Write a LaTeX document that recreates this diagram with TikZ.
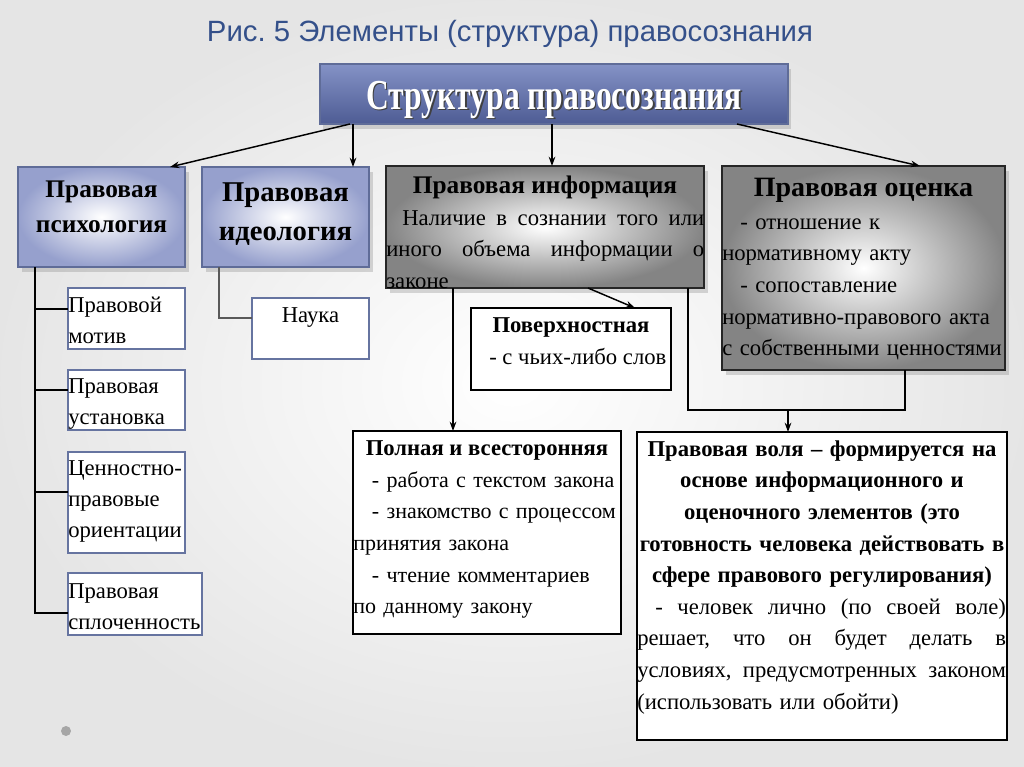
\documentclass[tikz,border=0pt]{standalone}
\usepackage{fontspec}
\setmainfont{Liberation Serif}
\newfontfamily\sansf{Liberation Sans}
\usetikzlibrary{arrows.meta,fit,calc,shadows}
\frenchspacing
\definecolor{titleblue}{RGB}{52,80,138}
\definecolor{headtop}{RGB}{132,146,198}
\definecolor{headbot}{RGB}{78,92,148}
\definecolor{lavedge}{RGB}{150,160,205}
\definecolor{lavline}{RGB}{95,108,152}
\definecolor{smline}{RGB}{102,116,160}
\definecolor{grayedge}{RGB}{132,132,132}
\newcommand\bodyf{\fontsize{17}{23.8}\selectfont}
\newcommand\smallf{\fontsize{17}{23.25}\selectfont}
\newcommand\jline[2]{\leavevmode\hbox to #1{\spaceskip=0.25em plus 1fil\relax #2}}
\tikzset{
  boxfit/.style={inner sep=0pt, outer sep=0pt},
  headbox/.style={boxfit, draw=lavline, line width=0.8pt, top color=headtop, bottom color=headbot,
     drop shadow={shadow xshift=2pt, shadow yshift=-4pt, opacity=0.3}},
  lavbox/.style={boxfit, draw=lavline, line width=0.9pt, shading=radial, inner color=white, outer color=lavedge,
     drop shadow={shadow xshift=3pt, shadow yshift=-4pt, opacity=0.3}},
  graybox/.style={boxfit, draw=black!85, line width=0.9pt, shading=radial, inner color=white, outer color=grayedge,
     drop shadow={shadow xshift=3pt, shadow yshift=-4pt, opacity=0.3}},
  smbox/.style={boxfit, draw=smline, line width=2.2pt, fill=white},
  blkbox/.style={boxfit, draw=black, line width=2pt, fill=white},
  txt/.style={inner sep=0pt, anchor=base west, font=\bodyf, align=left},
  txtw/.style={txt, text width=#1},
  ctxt/.style={inner sep=0pt, anchor=base, align=center},
  ctxtw/.style={ctxt, text width=#1},
  conn/.style={draw=black, line width=1.1pt},
  arr/.style={conn, -{Stealth[length=7pt,width=5pt]}},
}
\begin{document}
\begin{tikzpicture}[x=0.75pt,y=-0.75pt]
\useasboundingbox (0,0) rectangle (1024,767);
\shade[inner color=white, outer color=black!10] (0,0) rectangle (1024,767);

% title
\node[ctxt, font=\sansf\fontsize{22}{26}\selectfont, text=titleblue] (title) at (510,42) {Рис. 5 Элементы (структура) правосознания};

% boxes
\node[headbox, fit={(320,64) (788,124)}] (top) {};
\node[ctxt, text=black!75] (topsh) at (555.5,110.5) {\scalebox{0.74}[1]{\bfseries\fontsize{32}{32}\selectfont Структура правосознания}};
\node[ctxt, text=white] (toptxt) at (554,109) {\scalebox{0.74}[1]{\bfseries\fontsize{32}{32}\selectfont Структура правосознания}};

\node[lavbox, fit={(18,167) (185,267)}] (psych) {};
\node[ctxtw=125pt, font=\bfseries\fontsize{19}{26.25}\selectfont] (psychtxt) at (101.5,197) {Правовая\\психология};

\node[lavbox, fit={(202,167) (369,267)}] (ideol) {};
\node[ctxtw=125pt, font=\bfseries\fontsize{21.5}{29.25}\selectfont] (ideoltxt) at (285.5,201) {Правовая\\идеология};

\node[graybox, fit={(386,166) (704,288)}] (info) {};
\node[ctxt, font=\bfseries\fontsize{19}{23}\selectfont] (infott) at (545,193) {Правовая информация};
\node[txtw=240pt] (infotxt) at (386,225) {\jline{238.5pt}{\hspace*{12pt}Наличие в сознании того или}\\
\jline{238.5pt}{иного объема информации о}\\законе};

\node[graybox, fit={(722,166) (1005,370)}] (ocenka) {};
\node[ctxt, font=\bfseries\fontsize{21}{25}\selectfont] (ocenkatt) at (863.5,196) {Правовая оценка};
\node[txtw=215pt] (ocenkatxt) at (722,229) {\hspace*{13.5pt}- отношение к\\нормативному акту\\\hspace*{13.5pt}- сопоставление\\нормативно-правового акта\\с собственными ценностями};

\node[smbox, fit={(68,288) (185,349)}] (motiv) {};
\node[txtw=100pt, font=\smallf] (motivtxt) at (68,312) {Правовой\\мотив};
\node[smbox, fit={(68,370) (185,430)}] (ustan) {};
\node[txtw=100pt, font=\smallf] (ustantxt) at (68,393) {Правовая\\установка};
\node[smbox, fit={(68,452) (185,553)}] (cennost) {};
\node[txtw=100pt, font=\smallf] (cennosttxt) at (68,475) {Ценностно-\\правовые\\ориентации};
\node[smbox, fit={(68,573) (202,635)}] (splo) {};
\node[txtw=100pt, font=\smallf] (splotxt) at (68,598) {Правовая\\сплоченность};

\node[smbox, fit={(252,298) (369,359)}] (nauka) {};
\node[ctxt, font=\bodyf] (naukatxt) at (310.5,322) {Наука};

\node[blkbox, fit={(471,308) (671,390)}] (poverh) {};
\node[ctxt, font=\bfseries\bodyf] (poverhtt) at (571,332) {Поверхностная};
\node[txt] (poverhtxt) at (489,364) {- с чьих-либо слов};

\node[blkbox, fit={(353,431) (621,634)}] (poln) {};
\node[ctxt, font=\bfseries\bodyf] (polntt) at (487,455) {Полная и всесторонняя};
\node[txtw=240pt, font=\fontsize{16.5}{23.8}\selectfont] (polntxt) at (353,487) {\hspace*{14pt}- работа с текстом закона\\\hspace*{14pt}- знакомство с процессом\\принятия закона\\\hspace*{14pt}- чтение комментариев\\по данному закону};

\node[blkbox, fit={(637,432) (1007,740)}] (volya) {};
\node[ctxtw=277.5pt, font=\bfseries\bodyf] (volyatt) at (822,456) {Правовая воля -- формируется на\\основе информационного и\\оценочного элементов (это\\готовность человека действовать в\\сфере правового регулирования)};
\node[txtw=280pt] (volyatxt) at (637,614) {\jline{276.5pt}{\hspace*{13.5pt}- человек лично (по своей воле)}\\
\jline{276.5pt}{решает, что он будет делать в}\\
\jline{276.5pt}{условиях, предусмотренных законом}\\(использовать или обойти)};

% connectors from the head box
\draw[arr] ($(top.south west)+(30,0)$) -- ($(psych.north east)+(-15,0)$);
\coordinate (a1) at ($(top.south west)+(33,0)$);
\draw[arr] (a1) -- (a1 |- ideol.north);
\coordinate (a2) at ($(top.south west)+(232,0)$);
\draw[arr] (a2) -- (a2 |- info.north);
\draw[arr] ($(top.south east)+(-51,0)$) -- ($(ocenka.north east)+(-85,0)$);

% psychology tree
\coordinate (p0) at ($(psych.south west)+(17,0)$);
\draw[conn, line width=0.9pt] (p0) |- ($(splo.north west)+(0,40)$);
\draw[conn, line width=0.9pt] (p0) |- ($(motiv.north west)+(0,21)$);
\draw[conn, line width=0.9pt] (p0) |- ($(ustan.north west)+(0,20)$);
\draw[conn, line width=0.9pt] (p0) |- ($(cennost.north west)+(0,40)$);

% ideology
\draw[draw=black!65, line width=1pt] ($(ideol.south west)+(17,0)$) |- ($(nauka.north west)+(0,20)$);

% information
\coordinate (i1) at ($(info.south west)+(67,0)$);
\draw[arr] (i1) -- (i1 |- poln.north);
\draw[arr] ($(info.south west)+(202,0)$) -- ($(poverh.north east)+(-36,0)$);
\coordinate (j) at ($(volya.north west)+(151,-22)$);
\draw[conn, line width=0.9pt] ($(info.south east)+(-16,0)$) |- (j) -| ($(ocenka.south east)+(-100,0)$);
\draw[arr] (j) -- (j |- volya.north);

% dot
\fill[black!35] (66,731) circle (3.75pt);
\end{tikzpicture}
\end{document}
